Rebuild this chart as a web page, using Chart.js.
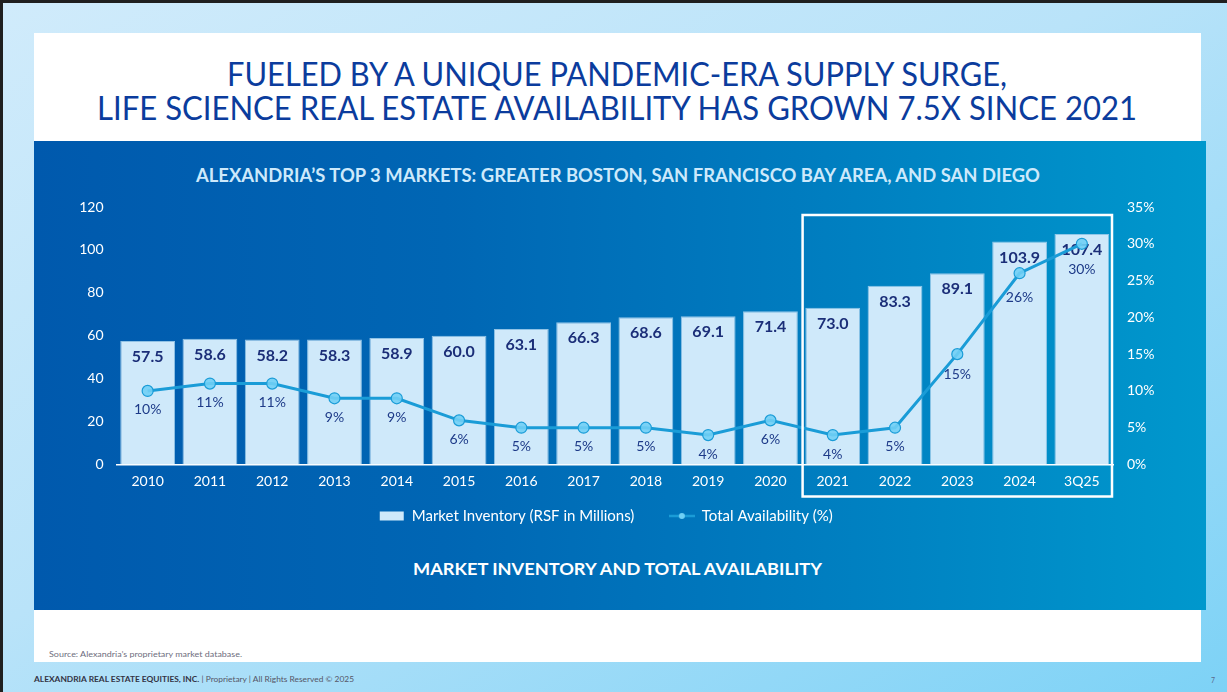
<!DOCTYPE html>
<html><head><meta charset="utf-8">
<script src="https://cdn.jsdelivr.net/npm/chart.js@4.4.1/dist/chart.umd.min.js"></script>
<style>
html,body{margin:0;padding:0;}
body{width:1227px;height:692px;background:#1f1f1f;position:relative;overflow:hidden;font-family:Lato,"Open Sans",sans-serif;}
#outer{position:absolute;left:3px;top:3px;right:0;bottom:0;background:linear-gradient(to bottom right,#d0ebfb 0%,#b9e3f9 45%,#7dd2f6 100%);}
#white{position:absolute;left:34px;top:33px;width:1167px;height:629px;background:#fff;}
#blue{position:absolute;left:34px;top:141px;width:1172px;height:469px;background:linear-gradient(to right,#0059ad 0%,#0066b4 35%,#007cbf 65%,#0098cd 100%);}
.t{position:absolute;white-space:nowrap;transform-origin:0 0;}
#c{position:absolute;left:0;top:0;}
</style></head>
<body>
<div id="outer"></div>
<div id="white"></div>
<div id="blue"></div>
<div class="t" id="t1" style="color:#0b3c9d;font-weight:400;">FUELED BY A UNIQUE PANDEMIC-ERA SUPPLY SURGE,</div>
<div class="t" id="t2" style="color:#0b3c9d;font-weight:400;">LIFE SCIENCE REAL ESTATE AVAILABILITY HAS GROWN 7.5X SINCE 2021</div>
<div class="t" id="st" style="color:#cde9fb;font-weight:700;">ALEXANDRIA’S TOP 3 MARKETS: GREATER BOSTON, SAN FRANCISCO BAY AREA, AND SAN DIEGO</div>
<div class="t" id="bt" style="color:#ffffff;font-weight:700;">MARKET INVENTORY AND TOTAL AVAILABILITY</div>
<div class="t" id="src" style="color:#6d6d7d;">Source: Alexandria’s proprietary market database.</div>
<div class="t" id="ft" style="color:#555566;"><b style="color:#333344;">ALEXANDRIA REAL ESTATE EQUITIES, INC.</b> | Proprietary | All Rights Reserved © 2025</div>
<div class="t" id="pg" style="color:#5a6a8c;">7</div>
<canvas id="c" width="1227" height="692"></canvas>
<script>
// ---- data ----
const categories = ['2010','2011','2012','2013','2014','2015','2016','2017','2018','2019','2020','2021','2022','2023','2024','3Q25'];
const inventory = [57.5,58.6,58.2,58.3,58.9,60.0,63.1,66.3,68.6,69.1,71.4,73.0,83.3,89.1,103.9,107.4];
const availability = [10,11,11,9,9,6,5,5,5,4,6,4,5,15,26,30];
const leftTicks = [0,20,40,60,80,100,120];
const rightTicks = [0,5,10,15,20,25,30,35];
const highlightStart = '2021';
const seriesNames = ['Market Inventory (RSF in Millions)','Total Availability (%)'];

// ---- text placement ----
function place(id, x0, x1, capCenter, fs){
  const el = document.getElementById(id);
  el.style.fontSize = fs + 'px';
  el.style.lineHeight = fs + 'px';
  el.style.top = (capCenter - 0.5285*fs) + 'px';
  el.style.left = x0 + 'px';
  const w = el.getBoundingClientRect().width;
  el.style.transform = 'scaleX(' + ((x1 - x0)/w) + ')';
}
place('t1', 227, 1007, 74.5, 32);
place('t2', 97, 1137, 109, 32);
place('st', 196, 1040, 175.5, 18);
place('bt', 413, 822, 569.5, 17.5);
place('src', 49, 242, 654, 8);
place('ft', 34, 354, 680, 7.5);
place('pg', 1211, 1215, 680, 8);

// ---- chart ----
Chart.defaults.font.family = 'Lato, "Open Sans", sans-serif';
const BAR = '#cfe9fa', LINE = '#1a9cd7', DOT = 'rgba(112,207,245,0.9)';

function icon(kind){
  const c = document.createElement('canvas');
  c.width = 26; c.height = 10;
  const x = c.getContext('2d');
  if(kind === 'bar'){ x.fillStyle = BAR; x.fillRect(1,0.5,24,9); }
  else {
    x.strokeStyle = LINE; x.lineWidth = 2.5;
    x.beginPath(); x.moveTo(0,5); x.lineTo(26,5); x.stroke();
    x.fillStyle = '#6fd0f5'; x.beginPath(); x.arc(13,5,3,0,Math.PI*2); x.fill();
  }
  return c;
}

const labelsPlugin = {
  id:'labels',
  afterDatasetDraw(chart, args){
    const ctx = chart.ctx;
    if(args.index === 0){
      ctx.save();
      ctx.font = '700 16px Lato';
      ctx.fillStyle = '#1b2e78';
      ctx.textAlign = 'center'; ctx.textBaseline = 'middle';
      args.meta.data.forEach((el,i)=>{
        ctx.fillText(inventory[i].toFixed(1), el.x, el.y + 16);
      });
      ctx.restore();
    }
  },
  afterDatasetsDraw(chart){
    const ctx = chart.ctx;
    const meta = chart.getDatasetMeta(1);
    ctx.save();
    ctx.font = '400 14px Lato';
    ctx.fillStyle = '#1d3a88';
    ctx.textAlign = 'center'; ctx.textBaseline = 'middle';
    meta.data.forEach((el,i)=>{
      const v = availability[i];
      const off = 19 + Math.max(0, v - 10)*0.35;
      ctx.fillText(v + '%', el.x, el.y + off);
    });
    // highlight box
    const xs = chart.scales.x, ca = chart.chartArea;
    const step = xs.width / categories.length;
    const i0 = categories.indexOf(highlightStart);
    const left = xs.getPixelForValue(i0) - step/2 + 1;
    const right = xs.getPixelForValue(categories.length-1) + step/2 - 1;
    ctx.strokeStyle = '#ffffff'; ctx.lineWidth = 2.5;
    ctx.strokeRect(left, ca.top + 8, right - left, ca.bottom + 32 - (ca.top + 8));
    ctx.restore();
  },
  afterLayout(chart){
    const lg = chart.legend;
    if(lg){
      const dx = 606 - (lg.left + lg.right)/2;
      lg.left += dx; lg.right += dx;
      const dy = -25.5;
      lg.top += dy; lg.bottom += dy;
    }
  }
};

new Chart(document.getElementById('c'), {
  data:{
    labels: categories,
    datasets:[
      {type:'bar', label:seriesNames[0], data:inventory, backgroundColor:BAR, borderColor:'rgba(160,205,235,0.9)', borderWidth:1,
       barPercentage:0.88, categoryPercentage:1, yAxisID:'y', order:2},
      {type:'line', label:seriesNames[1], data:availability, borderColor:LINE, borderWidth:3, tension:0,
       pointRadius:5.5, pointBackgroundColor:DOT, pointBorderColor:LINE, pointBorderWidth:1.2, yAxisID:'y1', order:1}
    ]
  },
  options:{
    responsive:false, animation:false, devicePixelRatio:1,
    layout:{padding:{left:34,right:0,top:207,bottom:133}},
    plugins:{
      tooltip:{enabled:false},
      legend:{
        position:'bottom',
        labels:{
          color:'#ffffff', font:{size:15}, usePointStyle:true, pointStyleWidth:25, padding:35,
          generateLabels(){
            return [
              {text:seriesNames[0], pointStyle:icon('bar'), fillStyle:BAR, strokeStyle:BAR, lineWidth:0, fontColor:'#fff', datasetIndex:0, hidden:false},
              {text:seriesNames[1], pointStyle:icon('line'), fillStyle:LINE, strokeStyle:LINE, lineWidth:0, fontColor:'#fff', datasetIndex:1, hidden:false}
            ];
          }
        }
      }
    },
    scales:{
      x:{
        offset:true,
        grid:{display:false, drawTicks:false},
        border:{display:true, color:'#ffffff', width:1.5},
        ticks:{color:'#ffffff', font:{size:14}, padding:9},
        afterFit(s){ s.height = 34.5; }
      },
      y:{
        position:'left', min:0, max:120,
        grid:{display:false, drawTicks:false}, border:{display:false},
        ticks:{color:'#ffffff', font:{size:14}, padding:13},
        afterBuildTicks(s){ s.ticks = leftTicks.map(v=>({value:v})); },
        afterFit(s){ s.width = 82.5; }
      },
      y1:{
        position:'right', min:0, max:35,
        grid:{display:false, drawTicks:false}, border:{display:false},
        ticks:{color:'#ffffff', font:{size:14}, padding:14, callback:v=>v+'%'},
        afterBuildTicks(s){ s.ticks = rightTicks.map(v=>({value:v})); },
        afterFit(s){ s.width = 114; }
      }
    }
  },
  plugins:[labelsPlugin]
});
</script>
</body></html>
